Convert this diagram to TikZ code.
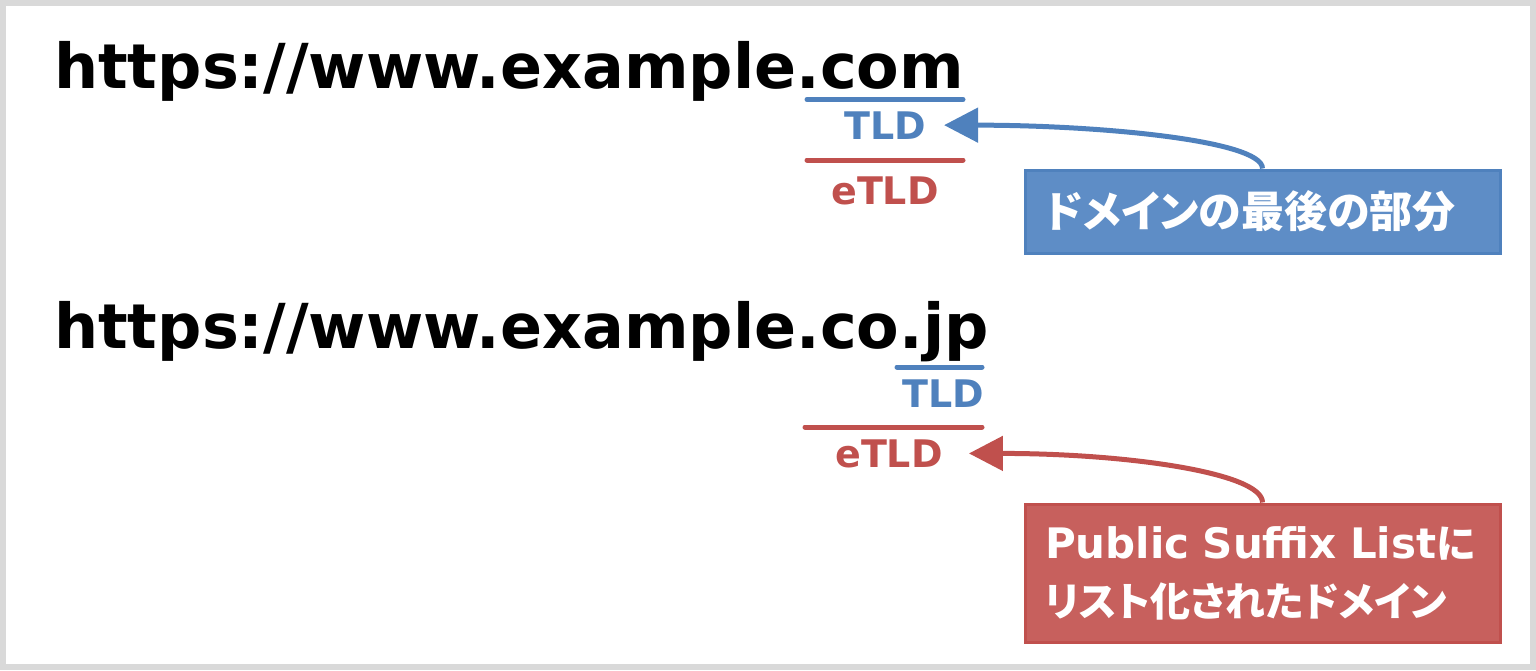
\documentclass[tikz,border=0pt]{standalone}
\usepackage{fontspec}
\usepackage{tikz}
\usepackage{xcolor}
\usetikzlibrary{arrows.meta}
\setmainfont{DejaVu Sans}
\newfontfamily\jpfont{Noto Sans CJK JP}[RawFeature=+palt]
\definecolor{bleu}{HTML}{4F81BD}
\definecolor{rouge}{HTML}{C0504D}
\definecolor{bleuclair}{HTML}{5E8DC6}
\definecolor{rougeclair}{HTML}{C7605D}
\definecolor{cadre}{HTML}{D9D9D9}

\begin{document}
\begin{tikzpicture}[x=1pt,y=-1pt]
% Styles (MODIFIABLES)
\tikzstyle{fleche}=[-{Triangle[length=34pt,width=34pt]},line width=5pt]
\tikzstyle{url}=[anchor=base west,inner sep=0pt,font=\fontsize{62}{70}\selectfont\bfseries]
\tikzstyle{etiquette}=[anchor=base,inner sep=2pt,font=\fontsize{38}{44}\selectfont\bfseries]
\tikzstyle{trait}=[line width=5pt,line cap=round]
\tikzstyle{boite}=[draw,line width=3pt,minimum width=475pt,text width=435pt,inner xsep=20pt,align=left,text=white]
% Cadre
\useasboundingbox (0,0) rectangle (1536,670);
\draw[cadre,line width=6pt] (3,3) rectangle (1533,667);
% Adresses
\node[url] (urlA) at (54,88) {https://www.example.com};
\node[url] (urlB) at (54,348) {https://www.example.co.jp};
% Soulignements
\draw[trait,bleu] (807,99.5) -- (963,99.5);
\draw[trait,rouge] (807,160) -- (963,160);
\draw[trait,bleu] (897,367) -- (982,367);
\draw[trait,rouge] (805,427) -- (982,427);
% Etiquettes
\node[etiquette,bleu] (tldA) at (885,139) {TLD};
\node[etiquette,rouge] (etldA) at (885,204) {eTLD};
\node[etiquette,bleu] (tldB) at (943,407) {TLD};
\node[etiquette,rouge] (etldB) at (889,467) {eTLD};
% Boites
\node[boite,draw=bleu,fill=bleuclair,minimum height=83pt,font=\jpfont\bfseries\fontsize{43}{55}\selectfont] (boxA) at (1262.5,211.5) {ドメインの最後の部分};
\node[boite,draw=rouge,fill=rougeclair,minimum height=138pt,font=\jpfont\bfseries\fontsize{40}{58}\selectfont] (boxB) at (1262.5,573) {{\rmfamily\bfseries\fontsize{42}{58}\selectfont Public Suffix List}に\\リスト化されたドメイン};
% Fleches
\draw[fleche,bleu,shorten >=16pt] (boxA.north) .. controls +(0,-28) and +(172,0) .. (tldA.east);
\draw[fleche,rouge,shorten >=24pt] (boxB.north) .. controls +(0,-30) and +(180,0) .. (etldB.east);
\end{tikzpicture}
\end{document}
